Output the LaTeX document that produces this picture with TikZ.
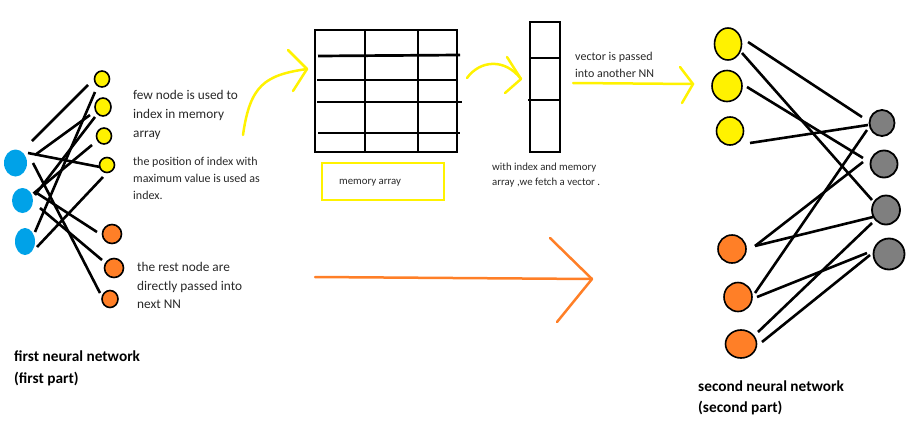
\documentclass[tikz,border=0pt]{standalone}
\usepackage{fontspec}
\setmainfont{Carlito}
\usetikzlibrary{shapes.geometric,calc}
\definecolor{pyellow}{RGB}{255,242,0}
\definecolor{porange}{RGB}{255,127,39}
\definecolor{pblue}{RGB}{0,162,232}
\definecolor{pgray}{RGB}{127,127,127}
\definecolor{txtc}{RGB}{40,40,40}
\begin{document}
\begin{tikzpicture}[x=1pt,y=-1pt,
  bluenode/.style 2 args={ellipse, fill=pblue, inner sep=0, minimum width=#1, minimum height=#2},
  ylw/.style 2 args={ellipse, draw=black, line width=1.6pt, fill=pyellow, inner sep=0, minimum width=#1, minimum height=#2},
  org/.style 2 args={ellipse, draw=black, line width=1.6pt, fill=porange, inner sep=0, minimum width=#1, minimum height=#2},
  gry/.style 2 args={ellipse, draw=black, line width=1.8pt, fill=pgray, inner sep=0, minimum width=#1, minimum height=#2},
  edge/.style={line width=2.6pt, black},
  ybrush/.style={line width=2.5pt, pyellow, line cap=round, line join=round},
  obrush/.style={line width=2.5pt, porange, line cap=round, line join=round},
  gridline/.style={line width=2.7pt, black},
  note/.style={text=txtc, align=left, inner sep=0, anchor=north west},
  title/.style={text=black, align=left, inner sep=0, anchor=north west, font=\bfseries\fontsize{15.3}{22}\selectfont}
]
\useasboundingbox (0,0) rectangle (909,423);

% ---------- first network ----------
\node[bluenode={23pt}{27pt}] (B1) at (15.5,163) {};
\node[bluenode={21pt}{25pt}] (B2) at (22.5,200.5) {};
\node[bluenode={20pt}{27pt}] (B3) at (25,241.5) {};

\node[ylw={15pt}{16pt}] (Y1) at (102,79) {};
\node[ylw={16pt}{18pt}] (Y2) at (103,107) {};
\node[ylw={15pt}{16pt}] (Y3) at (104,136) {};
\node[ylw={15pt}{15pt}] (Y4) at (107,165) {};
\node[org={19pt}{19pt}] (O1) at (112,234) {};
\node[org={19pt}{19pt}] (O2) at (114,268) {};
\node[org={16pt}{17pt}] (O3) at (110,299) {};

\draw[edge] ($(B1)+(16.5,-22)$) -- ($(Y1)+(-14,6)$);
\draw[edge] ($(B1)+(19.5,-8)$) -- ($(Y2)+(-13,8)$);
\draw[edge] ($(B1)+(12.5,-10)$) -- ($(Y4)+(-7,2)$);
\draw[edge] ($(B1)+(17.5,0)$) -- ($(O3)+(-10,-6)$);
\draw[edge] ($(B2)+(12.5,-5.5)$) -- ($(Y2)+(-8,10)$);
\draw[edge] ($(B2)+(11,-7)$) -- ($(Y3)+(-12,9)$);
\draw[edge] ($(B2)+(15,-7)$) -- ($(O1)+(-15,-2)$);
\draw[edge] ($(B2)+(17.5,7.5)$) -- ($(O2)+(-12,-8)$);
\draw[edge] ($(B3)+(10,-9.5)$) -- ($(Y1)+(-7,13)$);
\draw[edge] ($(B3)+(12,5.5)$) -- ($(Y4)+(-4,12)$);

\node[note, font=\fontsize{13.3}{19}\selectfont] (t1) at (133,90.5) {few node is used to\\index in memory\\array};
\node[note, font=\fontsize{12}{17}\selectfont] (t2) at (133,157) {the position of index with\\maximum value is used as\\index.};
\node[note, font=\fontsize{13.3}{18.5}\selectfont] (t3) at (137,262.5) {the rest node are\\directly passed into\\next NN};
\node[title] (t4) at (14,350.5) {first neural network\\(first part)};

% ---------- memory array ----------
\node[draw, line width=2.8pt, minimum width=142pt, minimum height=122pt, inner sep=0] (mem) at (386,91) {};
\draw[gridline] (365,30) -- (365,152);
\draw[gridline] (418,30) -- (418,152);
\draw[gridline] (318,56) -- (460,55);
\draw[gridline] (317,80) -- (458,80);
\draw[gridline] (317,102) -- (462,102);
\draw[gridline] (318,133) -- (460,133);

\node[draw=pyellow, line width=2.6pt, minimum width=122pt, minimum height=37pt, inner sep=0] (memlbl) at (383,181.5) {};
\node[note, font=\fontsize{10.8}{13}\selectfont] (t5) at (339,179.5) {memory array};

% yellow arrow into memory
\coordinate (ya1s) at (243,135);
\coordinate (ya1e) at (307,69);
\draw[ybrush] (ya1s) .. controls (250,85) and (265,75) .. (ya1e);
\draw[ybrush] (288,50) -- (ya1e) -- (293,91);

% ---------- vector ----------
\node[draw, line width=2.8pt, minimum width=30pt, minimum height=130pt, inner sep=0] (vec) at (545,87) {};
\draw[gridline] (530,58) -- (560,58);
\draw[gridline] (528,100) -- (560,100);

\coordinate (ya2s) at (467,78);
\coordinate (ya2e) at (521,79);
\draw[ybrush] (ya2s) .. controls (480,60) and (505,58) .. (ya2e);
\draw[ybrush] (507,57) -- (ya2e) -- (505,93);

\node[note, font=\fontsize{10.8}{15}\selectfont] (t6) at (492,163) {with index and memory\\array ,we fetch a vector .};
\node[note, font=\fontsize{12}{17}\selectfont] (t7) at (575,52) {vector is passed\\into another NN};

\coordinate (ya3s) at (573,83);
\coordinate (ya3e) at (693,84);
\draw[ybrush] (ya3s) -- (ya3e);
\draw[ybrush] (680,67) -- (ya3e) -- (682,103);

% orange arrow
\coordinate (oas) at (315,277);
\coordinate (oae) at (592,279);
\draw[obrush] (oas) -- (oae);
\draw[obrush] (550,238) -- (oae) -- (557,322);

% ---------- second network ----------
\node[ylw={27pt}{32pt}] (RY1) at (728,44) {};
\node[ylw={30pt}{31pt}] (RY2) at (727,86) {};
\node[ylw={27pt}{28pt}] (RY3) at (730,131) {};
\node[org={28pt}{28pt}] (RO1) at (732,249) {};
\node[org={28pt}{29pt}] (RO2) at (738,297) {};
\node[org={31pt}{28pt}] (RO3) at (741,344) {};
\node[gry={25pt}{26pt}] (G1) at (882,123) {};
\node[gry={27pt}{27pt}] (G2) at (884,164) {};
\node[gry={28pt}{29pt}] (G3) at (886,210) {};
\node[gry={31pt}{31pt}] (G4) at (889,254) {};

\draw[edge] ($(RY1)+(20,-2)$) -- ($(G1)+(-20,-6)$);
\draw[edge] ($(RY1)+(14,9)$) -- ($(G3)+(-14,-10)$);
\draw[edge] ($(RY2)+(20,1)$) -- ($(G2)+(-21,-6)$);
\draw[edge] ($(RY3)+(20,12)$) -- ($(G1)+(-14,2)$);
\draw[edge] ($(RO1)+(23,-3)$) -- ($(G2)+(-21,-2)$);
\draw[edge] ($(RO1)+(23,-3)$) -- ($(G3)+(-13,7)$);
\draw[edge] ($(RO2)+(17,-4)$) -- ($(G1)+(-15,7)$);
\draw[edge] ($(RO2)+(19,0)$) -- ($(G4)+(-22,-1)$);
\draw[edge] ($(RO3)+(17,-12)$) -- ($(G3)+(-14,13)$);
\draw[edge] ($(RO3)+(21,-2)$) -- ($(G4)+(-19,1)$);

\node[title, font=\bfseries\fontsize{15.3}{21}\selectfont] (t8) at (698,381) {second neural network\\(second part)};
\end{tikzpicture}
\end{document}
